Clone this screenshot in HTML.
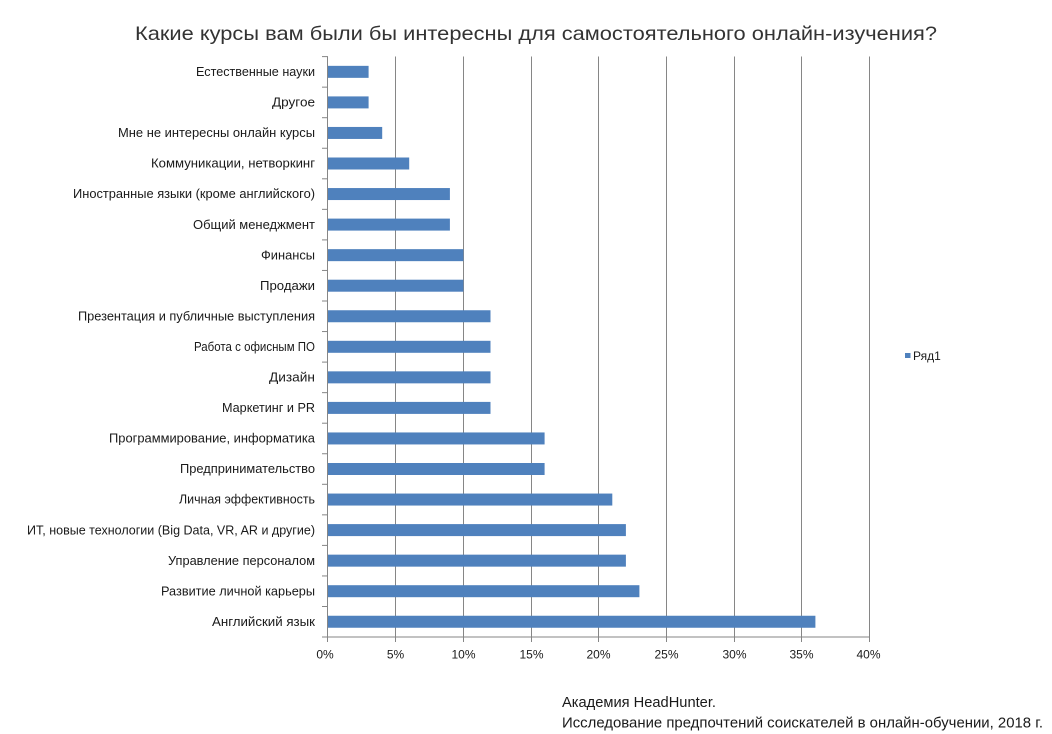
<!DOCTYPE html>
<html><head><meta charset="utf-8"><style>
html,body{margin:0;padding:0;background:#fff;}
svg{display:block;}
text{font-family:"Liberation Sans","Noto Sans CJK SC",sans-serif;fill:#1a1a1a;}
</style></head><body>
<svg width="1052" height="734" viewBox="0 0 1052 734" xmlns="http://www.w3.org/2000/svg">
<rect width="1052" height="734" fill="#fff"/>
<text x="135" y="40" font-size="19.5" textLength="802" lengthAdjust="spacingAndGlyphs" style="fill:#333">Какие курсы вам были бы интересны для самостоятельного онлайн-изучения?</text>
<g stroke="#868686" stroke-width="1">
<line x1="395.5" y1="56.5" x2="395.5" y2="642"/>
<line x1="463.5" y1="56.5" x2="463.5" y2="642"/>
<line x1="531.5" y1="56.5" x2="531.5" y2="642"/>
<line x1="598.5" y1="56.5" x2="598.5" y2="642"/>
<line x1="666.5" y1="56.5" x2="666.5" y2="642"/>
<line x1="734.5" y1="56.5" x2="734.5" y2="642"/>
<line x1="801.5" y1="56.5" x2="801.5" y2="642"/>
<line x1="869.5" y1="56.5" x2="869.5" y2="642"/>
<line x1="327.5" y1="56.5" x2="327.5" y2="642"/>
<line x1="322" y1="637" x2="870" y2="637"/>
<line x1="322" y1="56.6" x2="328" y2="56.6"/>
<line x1="322" y1="87.15" x2="328" y2="87.15"/>
<line x1="322" y1="117.7" x2="328" y2="117.7"/>
<line x1="322" y1="148.25" x2="328" y2="148.25"/>
<line x1="322" y1="178.8" x2="328" y2="178.8"/>
<line x1="322" y1="209.35" x2="328" y2="209.35"/>
<line x1="322" y1="239.9" x2="328" y2="239.9"/>
<line x1="322" y1="270.45" x2="328" y2="270.45"/>
<line x1="322" y1="301" x2="328" y2="301"/>
<line x1="322" y1="331.55" x2="328" y2="331.55"/>
<line x1="322" y1="362.1" x2="328" y2="362.1"/>
<line x1="322" y1="392.65" x2="328" y2="392.65"/>
<line x1="322" y1="423.2" x2="328" y2="423.2"/>
<line x1="322" y1="453.75" x2="328" y2="453.75"/>
<line x1="322" y1="484.3" x2="328" y2="484.3"/>
<line x1="322" y1="514.85" x2="328" y2="514.85"/>
<line x1="322" y1="545.4" x2="328" y2="545.4"/>
<line x1="322" y1="575.95" x2="328" y2="575.95"/>
<line x1="322" y1="606.5" x2="328" y2="606.5"/>
</g>
<g fill="#4f81bd">
<rect x="328" y="65.85" width="40.6" height="12"/>
<rect x="328" y="96.4" width="40.6" height="12"/>
<rect x="328" y="126.95" width="54.2" height="12"/>
<rect x="328" y="157.5" width="81.2" height="12"/>
<rect x="328" y="188.05" width="121.9" height="12"/>
<rect x="328" y="218.6" width="121.9" height="12"/>
<rect x="328" y="249.15" width="135.4" height="12"/>
<rect x="328" y="279.7" width="135.4" height="12"/>
<rect x="328" y="310.25" width="162.5" height="12"/>
<rect x="328" y="340.8" width="162.5" height="12"/>
<rect x="328" y="371.35" width="162.5" height="12"/>
<rect x="328" y="401.9" width="162.5" height="12"/>
<rect x="328" y="432.45" width="216.6" height="12"/>
<rect x="328" y="463" width="216.6" height="12"/>
<rect x="328" y="493.55" width="284.3" height="12"/>
<rect x="328" y="524.1" width="297.9" height="12"/>
<rect x="328" y="554.65" width="297.9" height="12"/>
<rect x="328" y="585.2" width="311.4" height="12"/>
<rect x="328" y="615.75" width="487.4" height="12"/>
</g>
<g font-size="12.5" text-anchor="end">
<text x="315" y="76" textLength="119" lengthAdjust="spacingAndGlyphs">Естественные науки</text>
<text x="315" y="106.55" textLength="43" lengthAdjust="spacingAndGlyphs">Другое</text>
<text x="315" y="137.1" textLength="197" lengthAdjust="spacingAndGlyphs">Мне не интересны онлайн курсы</text>
<text x="315" y="167.65" textLength="164" lengthAdjust="spacingAndGlyphs">Коммуникации, нетворкинг</text>
<text x="315" y="198.2" textLength="242" lengthAdjust="spacingAndGlyphs">Иностранные  языки (кроме английского)</text>
<text x="315" y="228.75" textLength="122" lengthAdjust="spacingAndGlyphs">Общий менеджмент</text>
<text x="315" y="259.3" textLength="54" lengthAdjust="spacingAndGlyphs">Финансы</text>
<text x="315" y="289.85" textLength="55" lengthAdjust="spacingAndGlyphs">Продажи</text>
<text x="315" y="320.4" textLength="237" lengthAdjust="spacingAndGlyphs">Презентация и публичные  выступления</text>
<text x="315" y="350.95" textLength="121" lengthAdjust="spacingAndGlyphs">Работа с офисным ПО</text>
<text x="315" y="381.5" textLength="46" lengthAdjust="spacingAndGlyphs">Дизайн</text>
<text x="315" y="412.05" textLength="93" lengthAdjust="spacingAndGlyphs">Маркетинг и PR</text>
<text x="315" y="442.6" textLength="206" lengthAdjust="spacingAndGlyphs">Программирование, информатика</text>
<text x="315" y="473.15" textLength="135" lengthAdjust="spacingAndGlyphs">Предпринимательство</text>
<text x="315" y="503.7" textLength="136" lengthAdjust="spacingAndGlyphs">Личная эффективность</text>
<text x="315" y="534.25" textLength="288" lengthAdjust="spacingAndGlyphs">ИТ, новые технологии (Big Data, VR, AR и другие)</text>
<text x="315" y="564.8" textLength="147" lengthAdjust="spacingAndGlyphs">Управление персоналом</text>
<text x="315" y="595.35" textLength="154" lengthAdjust="spacingAndGlyphs">Развитие личной карьеры</text>
<text x="315" y="625.9" textLength="103" lengthAdjust="spacingAndGlyphs">Английский язык</text>
</g>
<g font-size="12" text-anchor="middle">
<text x="325" y="658.5">0%</text>
<text x="395.5" y="658.5">5%</text>
<text x="463.5" y="658.5">10%</text>
<text x="531.5" y="658.5">15%</text>
<text x="598.5" y="658.5">20%</text>
<text x="666.5" y="658.5">25%</text>
<text x="734.5" y="658.5">30%</text>
<text x="801.5" y="658.5">35%</text>
<text x="868.5" y="658.5">40%</text>
</g>
<rect x="905" y="353" width="5.5" height="5" fill="#4f81bd"/>
<text x="913" y="360" font-size="12">Ряд1</text>
<text x="562" y="707" font-size="14.5" textLength="154" lengthAdjust="spacingAndGlyphs">Академия HeadHunter.</text>
<text x="562" y="727.5" font-size="14.5" textLength="481" lengthAdjust="spacingAndGlyphs">Исследование предпочтений соискателей в онлайн-обучении, 2018 г.</text>
</svg>
</body></html>
